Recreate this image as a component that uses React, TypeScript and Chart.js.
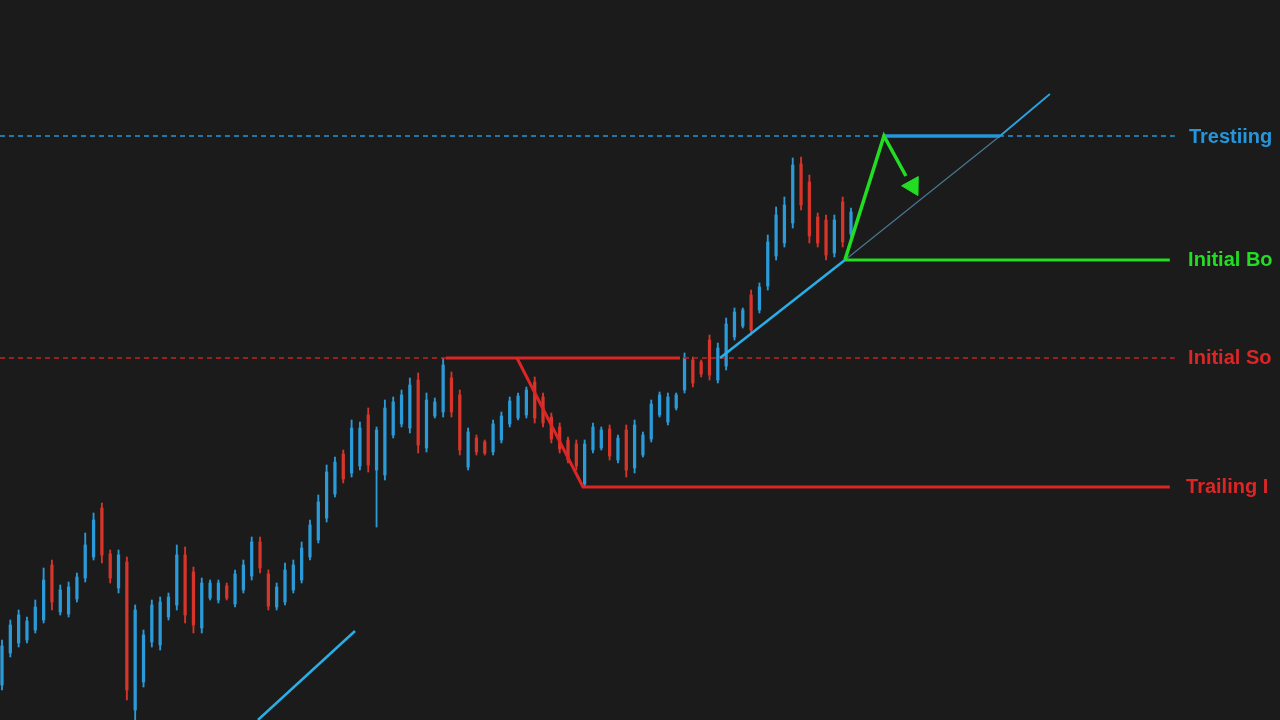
import { useEffect, useRef } from "react";
import { Chart, registerables } from "chart.js";

Chart.register(...registerables);

// ---- Candle data (price units, one candle per index) ----
const highs = [
  80, 100, 110, 103, 120, 152, 160, 135, 138, 147, 187, 207, 217, 170, 170, 163, 115, 90, 120, 123,
  127, 175, 173, 153, 142, 140, 140, 137, 150, 160, 183, 183, 150, 137, 157, 160, 178, 200, 225, 255,
  263, 270, 300, 298, 312, 293, 320, 323, 330, 342, 347, 327, 322, 362, 348, 330, 292, 285, 280, 300,
  308, 323, 327, 333, 343, 327, 307, 297, 283, 280, 280, 297, 293, 295, 285, 295, 300, 288, 320, 328,
  327, 327, 367, 363, 360, 385, 377, 402, 412, 412, 430, 437, 485, 513, 523, 562, 563, 545, 507, 505,
  505, 523, 512,
];
const lows = [
  30, 63, 73, 77, 87, 97, 110, 105, 103, 118, 138, 160, 157, 137, 127, 20, -5, 33, 73, 70,
  100, 110, 97, 87, 87, 120, 117, 120, 113, 127, 140, 147, 110, 110, 115, 127, 137, 160, 177, 198,
  223, 237, 243, 250, 248, 193, 240, 282, 293, 287, 267, 268, 302, 303, 303, 265, 250, 265, 265, 265,
  277, 293, 300, 302, 297, 293, 277, 267, 257, 250, 233, 267, 270, 260, 257, 243, 247, 263, 278, 303,
  295, 310, 327, 333, 343, 340, 337, 350, 380, 392, 385, 407, 430, 460, 473, 492, 510, 477, 473, 460,
  463, 473, 483,
];
const opens = [
  35, 67, 77, 80, 90, 100, 155, 108, 106, 121, 142, 163, 212, 166, 132, 158, 10, 38, 78, 75,
  103, 115, 165, 148, 92, 122, 120, 134, 116, 130, 144, 178, 146, 113, 118, 130, 140, 163, 180, 202,
  226, 266, 247, 254, 305, 250, 245, 285, 296, 292, 340, 272, 304, 308, 342, 325, 253, 282, 278, 268,
  280, 296, 302, 305, 338, 323, 303, 293, 280, 276, 236, 270, 272, 291, 260, 290, 252, 265, 281, 305,
  298, 312, 330, 360, 358, 380, 340, 354, 383, 394, 425, 410, 434, 464, 477, 497, 556, 538, 503, 500,
  467, 518, 486,
];
const closes = [
  74, 95, 105, 99, 113, 140, 118, 130, 133, 143, 175, 200, 165, 142, 165, 30, 110, 85, 115, 118,
  123, 165, 105, 95, 137, 137, 137, 122, 146, 155, 178, 152, 114, 133, 150, 155, 172, 195, 218, 248,
  258, 241, 292, 292, 255, 290, 312, 318, 325, 335, 275, 320, 318, 355, 308, 270, 288, 268, 267, 296,
  304, 319, 324, 330, 302, 297, 281, 271, 260, 254, 276, 293, 290, 264, 282, 250, 295, 285, 316, 325,
  323, 325, 362, 337, 346, 345, 372, 396, 408, 410, 390, 433, 478, 505, 515, 555, 515, 484, 477, 465,
  500, 478, 508,
];

// ---- Levels and drawn lines (x in candle index units, y in price units) ----
const breakoutLevel = 584;
const initialStopLevel = 362;
const initialBoLevel = 460;
const trailingLevel = 233;

const blueDashed = [{ x: -0.24, y: breakoutLevel }, { x: 140.9, y: breakoutLevel }];
const blueSolid = [{ x: 105.96, y: breakoutLevel }, { x: 119.9, y: breakoutLevel }];
const redDashed = [{ x: -0.24, y: initialStopLevel }, { x: 140.9, y: initialStopLevel }];
const redSolid = [{ x: 53.34, y: initialStopLevel }, { x: 81.45, y: initialStopLevel }];
const redTrail = [
  { x: 61.87, y: initialStopLevel },
  { x: 69.8, y: trailingLevel },
  { x: 140.3, y: trailingLevel },
];
const greenLevel = [{ x: 101.27, y: initialBoLevel }, { x: 140.3, y: initialBoLevel }];
const greenSwing = [
  { x: 101.27, y: initialBoLevel },
  { x: 105.96, y: breakoutLevel },
  { x: 108.6, y: 544 },
];
const greenArrowHead = [{ x: 109.4, y: 534 }];
const trendMain = [{ x: 86.26, y: initialStopLevel }, { x: 101.27, y: initialBoLevel }];
const trendExtA = [{ x: 101.27, y: initialBoLevel }, { x: 119.9, y: breakoutLevel }];
const trendExtB = [{ x: 119.9, y: breakoutLevel }, { x: 125.9, y: 626 }];
const trendLower = [{ x: 30.75, y: 0 }, { x: 42.41, y: 89 }];

const labelTexts = ["Trestiing", "Initial Bo", "Initial So", "Trailing I"];
const labelLevels = [583, initialBoLevel, initialStopLevel, trailingLevel];
const labelX = [142.6, 142.5, 142.5, 142.25];

const BG = "#1b1b1b";
const BLUE = "#2596dc";
const RED = "#dc2626";
const GREEN = "#22dd22";
const UP = "#2b9ad8";
const DOWN = "#d8352a";
const labelColors = [BLUE, GREEN, RED, RED];

const labelPlugin = {
  id: "levelLabels",
  afterDatasetsDraw(chart: any) {
    const { ctx } = chart;
    const xs = chart.scales.x;
    const ys = chart.scales.y;
    ctx.save();
    ctx.font = 'bold 20px "Liberation Sans", Arial, sans-serif';
    ctx.textBaseline = "middle";
    ctx.textAlign = "left";
    labelTexts.forEach((t, i) => {
      ctx.fillStyle = labelColors[i];
      ctx.fillText(t, xs.getPixelForValue(labelX[i]), ys.getPixelForValue(labelLevels[i]));
    });
    ctx.restore();
  },
};

function line(data: any[], color: string, width: number, dash: number[] = []) {
  return {
    type: "line" as const,
    data,
    borderColor: color,
    borderWidth: width,
    borderDash: dash,
    pointRadius: 0,
    tension: 0,
    fill: false,
    order: 0,
  };
}

export default function App() {
  const ref = useRef<HTMLCanvasElement>(null);
  useEffect(() => {
    document.body.style.margin = "0";
    document.body.style.background = BG;
    const colors = opens.map((o, i) => (closes[i] >= o ? UP : DOWN));
    const wicks = highs.map((h, i) => ({ x: i, y: [lows[i], h] }));
    const bodies = opens.map((o, i) => ({ x: i, y: [Math.min(o, closes[i]), Math.max(o, closes[i])] }));
    const chart = new Chart(ref.current!, {
      type: "line",
      data: {
        datasets: [
          {
            type: "line",
            data: greenArrowHead,
            showLine: false,
            pointStyle: "triangle",
            pointRadius: 11,
            pointRotation: 151,
            pointBackgroundColor: GREEN,
            pointBorderColor: GREEN,
            pointBorderWidth: 1,
            order: 0,
          } as any,
          line(greenSwing, GREEN, 3.5),
          line(greenLevel, GREEN, 3),
          line(blueSolid, BLUE, 3.5),
          line(trendMain, "#2aaee8", 2.5),
          line(trendExtA, "rgba(90,150,185,0.75)", 1.2),
          line(trendExtB, "#2aa4e0", 1.8),
          line(trendLower, "#2aaee8", 2.5),
          line(redSolid, RED, 3),
          line(redTrail, RED, 3),
          line(blueDashed, BLUE, 1.5, [5, 4]),
          line(redDashed, "#c82222", 1.5, [5, 4]),
          {
            type: "bar",
            data: bodies,
            backgroundColor: colors,
            barThickness: 2.6,
            grouped: false,
            borderWidth: 0,
            order: 5,
          } as any,
          {
            type: "bar",
            data: wicks,
            backgroundColor: colors,
            barThickness: 1.2,
            grouped: false,
            borderWidth: 0,
            order: 6,
          } as any,
        ],
      },
      options: {
        responsive: false,
        animation: false,
        events: [],
        layout: { padding: 0, autoPadding: false },
        plugins: { legend: { display: false }, tooltip: { enabled: false } },
        scales: {
          x: { type: "linear", min: -0.24, max: 153.54, display: false, offset: false },
          y: { type: "linear", min: 0, max: 720, display: false },
        },
      },
      plugins: [labelPlugin],
    });
    return () => chart.destroy();
  }, []);
  return (
    <div style={{ position: "fixed", left: 0, top: 0, width: 1280, height: 720, background: BG }}>
      <canvas ref={ref} width={1280} height={720} style={{ display: "block" }} />
    </div>
  );
}
